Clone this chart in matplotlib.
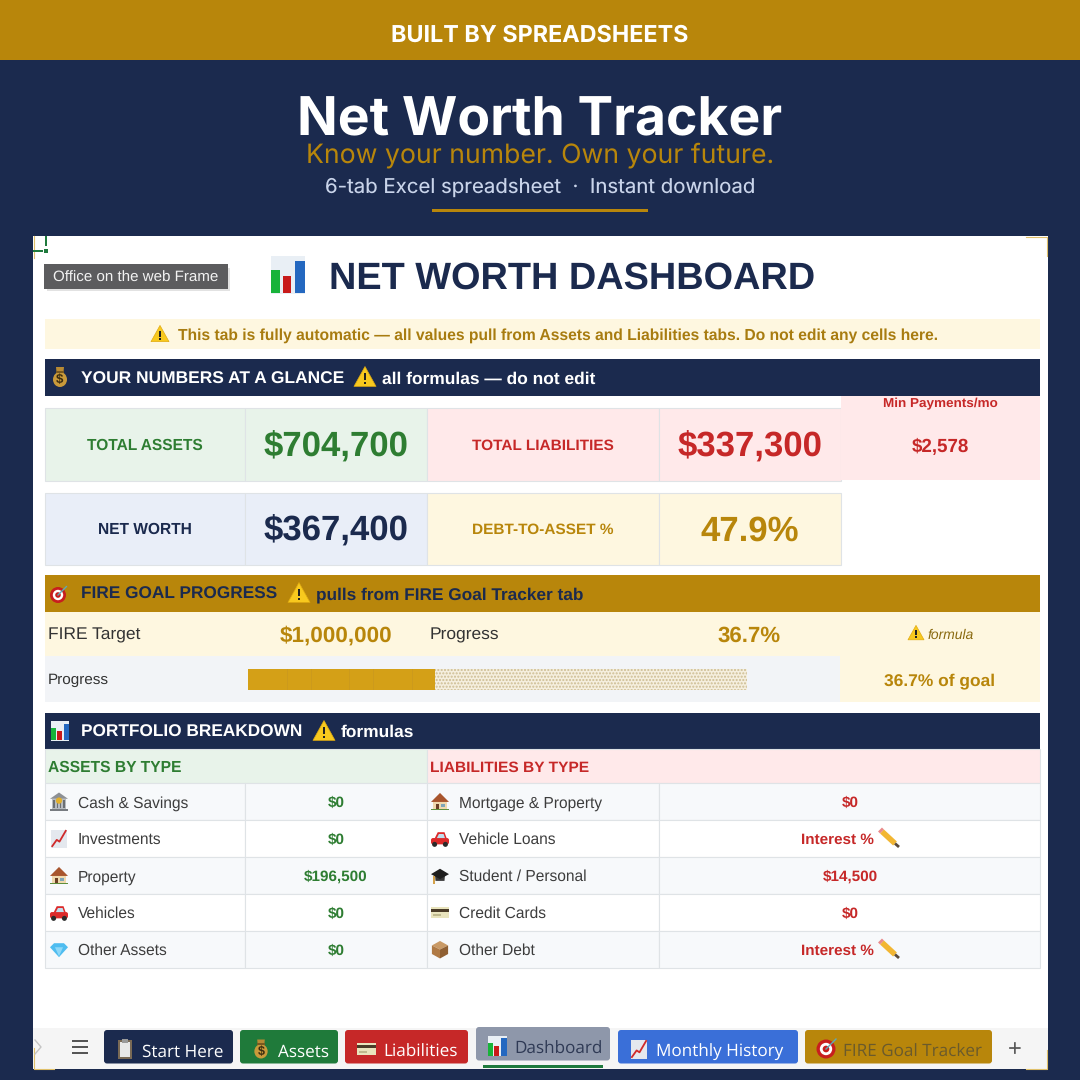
import matplotlib
matplotlib.use('Agg')
import matplotlib.pyplot as plt
from matplotlib.patches import Rectangle, FancyBboxPatch, Polygon, Circle, Ellipse

# ---- text and values
banner = 'BUILT BY SPREADSHEETS'
title = 'Net Worth Tracker'
subtitle = 'Know your number. Own your future.'
subline = '6-tab Excel spreadsheet  ·  Instant download'
dash_title = 'NET WORTH DASHBOARD'
warn_text = 'This tab is fully automatic — all values pull from Assets and Liabilities tabs. Do not edit any cells here.'
total_assets = '$704,700'
total_liabilities = '$337,300'
net_worth = '$367,400'
debt_ratio = '47.9%'
min_payments = '$2,578'
fire_target = '$1,000,000'
fire_pct = '36.7%'
progress_value = 36.7

asset_names = ['Cash & Savings', 'Investments', 'Property', 'Vehicles', 'Other Assets']
asset_values = ['$0', '$0', '$196,500', '$0', '$0']
asset_icons = ['bank', 'trend', 'house', 'car', 'gem']
liab_names = ['Mortgage & Property', 'Vehicle Loans', 'Student / Personal', 'Credit Cards', 'Other Debt']
liab_values = ['$0', 'Interest %', '$14,500', '$0', 'Interest %']
liab_icons = ['house', 'car', 'cap', 'card', 'box']

tab_names = ['Start Here', 'Assets', 'Liabilities', 'Dashboard', 'Monthly History', 'FIRE Goal Tracker']
tab_colors = ['#1b2a4e', '#1f7a3a', '#c62828', '#8e97aa', '#3a6fd8', '#b8860b']
tab_text = ['white', 'white', 'white', '#2f3a55', 'white', '#6a5a2c']
tab_left = [104, 240, 345, 476, 618, 805]
tab_right = [233, 338, 468, 610, 798, 992]
tab_icons = ['clip', 'bag', 'card', 'chart', 'trend', 'target']

NAVY = '#1b2a4e'
GOLD = '#b8860b'
GREEN = '#2e7d32'
RED = '#c62828'
SANS = 'Liberation Sans'
HEAD = 'Inter'
TAB = 'Open Sans'

plt.rcParams['font.family'] = ['Liberation Sans', 'DejaVu Sans']
plt.rcParams['text.hinting'] = 'no_hinting'

fig = plt.figure(figsize=(10.8, 10.8), dpi=100)
ax = fig.add_axes([0, 0, 1, 1])
ax.set_xlim(0, 1080)
ax.set_ylim(1080, 0)
ax.axis('off')


def box(x0, y0, x1, y1, color, edge='none', lw=0, z=1):
    ax.add_patch(Rectangle((x0, y0), x1 - x0, y1 - y0, fc=color, ec=edge, lw=lw, zorder=z))


def txt(x, y, s, size, color='#222222', ha='left', weight='normal', family=SANS, style='normal'):
    ax.text(x, y, s, fontsize=size, color=color, ha=ha, va='center_baseline', weight=weight,
            family=[family, 'DejaVu Sans'], style=style, zorder=5)


def poly(pts, color, z=6):
    ax.add_patch(Polygon(pts, closed=True, fc=color, ec='none', zorder=z))


def warn_icon(x, y, s=9):
    ax.add_patch(Polygon([(x - s, y + s * 0.85), (x + s, y + s * 0.85), (x, y - s * 0.95)],
                         closed=True, fc='#f8c91e', ec='#e0aa10', lw=0.5, joinstyle='round', zorder=5))
    box(x - s * 0.09, y - s * 0.35, x + s * 0.09, y + s * 0.3, '#222222', z=6)
    box(x - s * 0.09, y + s * 0.42, x + s * 0.09, y + s * 0.62, '#222222', z=6)


def chart_icon(x, y, s=9):
    box(x - s, y - s * 1.1, x + s, y + s * 1.1, '#e9eff5', z=4)
    box(x - s, y - s * 0.3, x - s * 0.45, y + s * 1.05, '#18b33a', z=5)
    box(x - s * 0.3, y + s * 0.05, x + s * 0.2, y + s * 1.05, '#c81a1a', z=5)
    box(x + s * 0.4, y - s * 0.8, x + s, y + s * 1.05, '#2468c0', z=5)


def trend_icon(x, y, s=9):
    box(x - s * 0.85, y - s, x + s * 0.85, y + s, '#e4e8ee', z=4)
    ax.plot([x - s * 0.75, x - s * 0.25, x + s * 0.05, x + s * 0.75],
            [y + s * 0.85, y + s * 0.15, y + s * 0.35, y - s * 0.85],
            color='#d02a2a', lw=1.3, zorder=5)


def house_icon(x, y, s=9):
    box(x - s * 0.75, y - s * 0.1, x + s * 0.75, y + s * 0.85, '#f0d9ae', z=4)
    poly([(x - s, y + s * 0.05), (x, y - s * 0.95), (x + s, y + s * 0.05)], '#a8552d', z=5)
    box(x - s * 0.5, y + s * 0.25, x - s * 0.1, y + s * 0.85, '#6b4026', z=5)
    box(x + s * 0.15, y + s * 0.25, x + s * 0.6, y + s * 0.6, '#7fa6b8', z=5)
    box(x - s, y + s * 0.8, x + s, y + s * 0.98, '#5f8f3c', z=5)


def bank_icon(x, y, s=9):
    box(x - s * 0.8, y - s * 0.3, x + s * 0.8, y + s * 0.85, '#b8bcc0', z=4)
    poly([(x - s, y - s * 0.3), (x, y - s), (x + s, y - s * 0.3)], '#8d9094', z=5)
    for dx in [-0.55, -0.18, 0.18, 0.55]:
        box(x + dx * s - s * 0.08, y - s * 0.2, x + dx * s + s * 0.08, y + s * 0.75, '#6c7074', z=5)
    ax.add_patch(Circle((x, y - s * 0.1), s * 0.35, fc='#e3b02c', ec='none', zorder=6))
    box(x - s, y + s * 0.8, x + s, y + s, '#777b80', z=5)


def car_icon(x, y, s=9):
    ax.add_patch(FancyBboxPatch((x - s, y - s * 0.05), s * 2, s * 0.7, boxstyle='round,pad=0,rounding_size=2',
                                fc='#dc2a2a', ec='none', zorder=5))
    poly([(x - s * 0.6, y), (x - s * 0.25, y - s * 0.7), (x + s * 0.5, y - s * 0.7), (x + s * 0.75, y)], '#dc2a2a')
    poly([(x - s * 0.35, y - s * 0.05), (x - s * 0.12, y - s * 0.5), (x + s * 0.4, y - s * 0.5), (x + s * 0.55, y - s * 0.05)], '#bfe0ee', z=7)
    for dx in [-0.6, 0.6]:
        ax.add_patch(Circle((x + dx * s, y + s * 0.65), s * 0.28, fc='#2a2a2a', ec='none', zorder=7))


def gem_icon(x, y, s=9):
    poly([(x - s, y - s * 0.25), (x - s * 0.55, y - s * 0.7), (x + s * 0.55, y - s * 0.7), (x + s, y - s * 0.25), (x, y + s * 0.85)], '#4fbdf0', z=5)
    poly([(x - s * 0.45, y - s * 0.25), (x + s * 0.45, y - s * 0.25), (x, y + s * 0.75)], '#8ed8f8', z=6)


def cap_icon(x, y, s=9):
    poly([(x - s * 0.55, y), (x + s * 0.55, y), (x + s * 0.5, y + s * 0.6), (x - s * 0.5, y + s * 0.6)], '#3a3a3a', z=5)
    poly([(x - s, y - s * 0.15), (x, y - s * 0.75), (x + s, y - s * 0.15), (x, y + s * 0.4)], '#1e1e1e', z=6)
    box(x - s * 0.75, y, x - s * 0.55, y + s * 0.95, '#d4a24a', z=7)


def card_icon(x, y, s=9):
    box(x - s, y - s * 0.65, x + s, y + s * 0.65, '#e9e4bd', z=4)
    box(x - s, y - s * 0.42, x + s, y - s * 0.1, '#4a3c28', z=5)
    box(x - s * 0.75, y + s * 0.2, x + s * 0.1, y + s * 0.4, '#bfb98e', z=5)


def box_icon(x, y, s=9):
    poly([(x - s * 0.9, y - s * 0.45), (x, y - s * 0.95), (x + s * 0.9, y - s * 0.45), (x, y)], '#c99a66', z=5)
    poly([(x - s * 0.9, y - s * 0.45), (x, y), (x, y + s), (x - s * 0.9, y + s * 0.5)], '#b07a45', z=5)
    poly([(x + s * 0.9, y - s * 0.45), (x, y), (x, y + s), (x + s * 0.9, y + s * 0.5)], '#8f5f32', z=5)


def bag_icon(x, y, s=9):
    ax.add_patch(Ellipse((x, y + s * 0.25), s * 1.4, s * 1.5, fc='#c99a3a', ec='none', zorder=5))
    poly([(x - s * 0.35, y - s * 0.45), (x - s * 0.4, y - s), (x + s * 0.4, y - s), (x + s * 0.35, y - s * 0.45)], '#b78a34', z=5)
    box(x - s * 0.4, y - s * 0.58, x + s * 0.4, y - s * 0.42, '#7a5a20', z=6)
    ax.text(x, y + s * 0.3, '$', fontsize=s * 0.95, color='#3a2c10', ha='center', va='center', weight='bold', zorder=7)


def target_icon(x, y, s=8):
    ax.add_patch(Circle((x, y), s, fc='#c81e1e', ec='none', zorder=5))
    ax.add_patch(Circle((x, y), s * 0.65, fc='white', ec='none', zorder=5))
    ax.add_patch(Circle((x, y), s * 0.35, fc='#c81e1e', ec='none', zorder=5))
    ax.plot([x, x + s * 1.05], [y, y - s * 1.05], color='#5fa8b8', lw=1, zorder=6)


def clip_icon(x, y, s=9):
    box(x - s * 0.7, y - s * 0.9, x + s * 0.7, y + s, '#7a6a55', z=4)
    box(x - s * 0.55, y - s * 0.7, x + s * 0.55, y + s * 0.85, '#e8e8e8', z=5)
    box(x - s * 0.3, y - s * 1.1, x + s * 0.3, y - s * 0.65, '#9a9a9a', z=6)


icon_funcs = {'bank': bank_icon, 'trend': trend_icon, 'house': house_icon, 'car': car_icon,
              'gem': gem_icon, 'cap': cap_icon, 'card': card_icon, 'box': box_icon,
              'bag': bag_icon, 'target': target_icon, 'clip': clip_icon, 'chart': chart_icon}


def pencil(x, y):
    ax.plot([x - 7, x + 6], [y - 7, y + 5], color='#f2b632', lw=4, solid_capstyle='butt', zorder=5)
    ax.plot([x - 9, x - 7], [y - 9, y - 7], color='#e98a8a', lw=4, solid_capstyle='butt', zorder=6)
    ax.plot([x + 6, x + 10], [y + 5, y + 8.5], color='#5a4a3a', lw=2, solid_capstyle='butt', zorder=6)


# ---- header
box(0, 0, 1080, 1080, NAVY, z=0)
box(0, 0, 1080, 60, GOLD)
txt(540, 33, banner, 16.8, 'white', 'center', 'bold', HEAD)
txt(540, 116, title, 38.5, 'white', 'center', 'bold', HEAD)
txt(540, 152, subtitle, 19.2, GOLD, 'center', 'normal', HEAD)
txt(540, 185, subline, 14.7, '#c9d4ea', 'center', 'normal', HEAD)
box(432, 209, 648, 212, GOLD)

# ---- sheet
box(33, 236, 1048, 1069, 'white')
corner = '#e0c06a'
ax.plot([1026, 1047, 1047], [236.5, 236.5, 256], color=corner, lw=0.8, zorder=3)
ax.plot([33.5, 33.5], [236, 258], color=corner, lw=0.8, zorder=3)
box(33, 250, 43, 252, '#1f7a3d', z=4)
box(45, 236, 47, 246, '#1f7a3d', z=4)
box(43.5, 249, 47.5, 253, '#1f7a3d', z=4)

box(47, 268, 230, 291, '#e2e2e2', z=3)
box(44, 264, 228, 289, '#5c5c5e', z=4)
txt(136, 276, 'Office on the web Frame', 10.9, '#f2f2f2', 'center')

chart_icon(288, 275, 17)
txt(572, 275, dash_title, 27.3, NAVY, 'center', 'bold')

box(45, 319, 1040, 349, '#fef7e0')
warn_icon(160, 334, 9)
txt(558, 334, warn_text, 11.25, '#a87c10', 'center', 'bold')

box(45, 359, 1040, 396, NAVY)
bag_icon(60, 377, 10)
txt(81, 378, 'YOUR NUMBERS AT A GLANCE', 12.5, 'white', weight='bold')
warn_icon(365, 377, 11)
txt(382, 378, 'all formulas — do not edit', 12.5, 'white', weight='bold')

# ---- KPI cards
line = '#dfe3e6'
lw_cell = 0.8
box(45, 408, 245, 481, '#e8f3ea', line, lw_cell)
box(245, 408, 427, 481, '#e8f3ea', line, lw_cell)
box(427, 408, 659, 481, '#ffe9ea', line, lw_cell)
box(659, 408, 841, 481, '#ffe9ea', line, lw_cell)
box(841, 396, 1040, 480, '#ffe9ea')
txt(145, 444, 'TOTAL ASSETS', 11.2, GREEN, 'center', 'bold')
txt(336, 444, total_assets, 25, GREEN, 'center', 'bold')
txt(543, 444, 'TOTAL LIABILITIES', 11.1, RED, 'center', 'bold')
txt(750, 444, total_liabilities, 25, RED, 'center', 'bold')
txt(940, 403, 'Min Payments/mo', 9.7, RED, 'center', 'bold')
txt(940, 445, min_payments, 13.5, RED, 'center', 'bold')

box(45, 493, 245, 565, '#e9eef8', line, lw_cell)
box(245, 493, 427, 565, '#e9eef8', line, lw_cell)
box(427, 493, 659, 565, '#fef7e0', line, lw_cell)
box(659, 493, 841, 565, '#fef7e0', line, lw_cell)
txt(145, 528, 'NET WORTH', 11.2, NAVY, 'center', 'bold')
txt(336, 528, net_worth, 25, NAVY, 'center', 'bold')
txt(543, 528, 'DEBT-TO-ASSET %', 11.1, GOLD, 'center', 'bold')
txt(750, 528, debt_ratio, 25, GOLD, 'center', 'bold')

# ---- FIRE goal
box(45, 575, 1040, 612, GOLD)
target_icon(58, 595, 8)
txt(81, 593, 'FIRE GOAL PROGRESS', 12.4, NAVY, weight='bold')
warn_icon(299, 593, 11)
txt(316, 593, 'pulls from FIRE Goal Tracker tab', 12.4, NAVY, weight='bold')

box(45, 612, 1040, 656, '#fef7e0')
txt(48, 633, 'FIRE Target', 12.5, '#333333')
txt(336, 634, fire_target, 16.2, GOLD, 'center', 'bold')
txt(430, 633, 'Progress', 12.5, '#333333')
txt(749, 634, fire_pct, 16, GOLD, 'center', 'bold')
warn_icon(916, 633, 8)
txt(928, 634, 'formula', 10, '#8a6a10', style='italic')

box(45, 656, 840, 702, '#f2f4f7')
box(840, 656, 1040, 702, '#fef7e0')
txt(48, 678, 'Progress', 11, '#333333')
bar_left, bar_end = 248, 747
bar_per_pct = 5.1
ax.add_patch(Rectangle((bar_left, 669), bar_end - bar_left, 21, fc='#f5efde', ec='#cdbd92', lw=0,
                       hatch='.....', zorder=2))
box(bar_left, 669, bar_left + progress_value * bar_per_pct, 690, '#d4a017', z=3)
for sx in [287, 311, 349, 373, 412]:
    box(sx, 669, sx + 1, 690, '#cc9a1c', z=4)
txt(940, 679, '36.7% of goal', 12.5, GOLD, 'center', 'bold')

# ---- portfolio breakdown
box(45, 713, 1040, 749, NAVY)
chart_icon(60, 731, 9)
txt(81, 731, 'PORTFOLIO BREAKDOWN', 12.4, 'white', weight='bold')
warn_icon(324, 731, 11)
txt(341, 731, 'formulas', 12.5, 'white', weight='bold')

box(45, 749, 427, 783, '#e8f3ea', line, lw_cell)
box(427, 749, 1040, 783, '#ffe9ea', line, lw_cell)
txt(48, 766, 'ASSETS BY TYPE', 11.25, GREEN, weight='bold')
txt(430, 766, 'LIABILITIES BY TYPE', 11.15, RED, weight='bold')

row_top = 783
row_h = 37
for i in range(len(asset_names)):
    y0 = row_top + i * row_h
    y1 = y0 + row_h
    ym = (y0 + y1) / 2
    fill = '#f7f9fb' if i % 2 == 0 else 'white'
    for a, b in [(45, 245), (245, 427), (427, 659), (659, 1040)]:
        box(a, y0, b, y1, fill, line, lw_cell)
    icon_funcs[asset_icons[i]](59, ym, 9)
    txt(78, ym, asset_names[i], 11.2, '#3d3d3d')
    txt(336, ym, asset_values[i], 11, GREEN, 'center', 'bold')
    icon_funcs[liab_icons[i]](440, ym, 9)
    txt(459, ym, liab_names[i], 11.2, '#3d3d3d')
    if liab_values[i].startswith('Interest'):
        txt(837, ym, liab_values[i], 11, RED, 'center', 'bold')
        pencil(889, ym)
    else:
        txt(850, ym, liab_values[i], 11, RED, 'center', 'bold')

# ---- tab bar
box(33, 1028, 1048, 1069, '#f5f5f5')
ax.plot([33.5, 33.5, 54], [1048, 1068.5, 1068.5], color=corner, lw=0.8, zorder=3)
ax.plot([1026, 1047, 1047], [1068.5, 1068.5, 1050], color=corner, lw=0.8, zorder=3)
ax.plot([35, 41, 35], [1040, 1047, 1054], color='#c4c4c4', lw=1, zorder=3)
for yy in [1041, 1047, 1053]:
    box(72, yy - 0.7, 88, yy + 0.7, '#555555', z=3)
for n, c, tc, l, r, ic in zip(tab_names, tab_colors, tab_text, tab_left, tab_right, tab_icons):
    lift = 3 if n == 'Dashboard' else 0
    ax.add_patch(FancyBboxPatch((l, 1030 - lift), r - l, 33.5, boxstyle='round,pad=0,rounding_size=3',
                                fc=c, ec='none', zorder=3))
    icon_funcs[ic](l + 21, 1049 - lift, 9.5)
    txt(l + 38, 1050 - lift, n, 12.3, tc, family=TAB)
box(483, 1065, 603, 1068, '#1f7a3d', z=4)
txt(1015, 1047, '+', 17, '#555555', 'center')

fig.savefig('out.png', dpi=100)
